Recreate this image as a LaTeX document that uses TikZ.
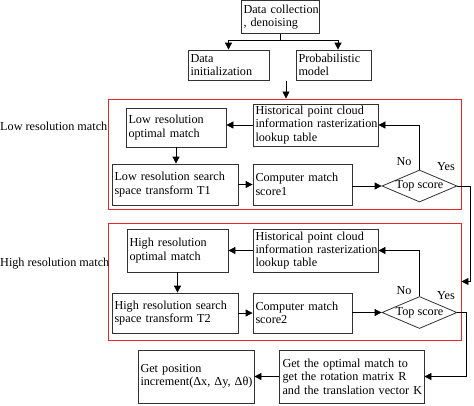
\documentclass[tikz,border=0pt]{standalone}
\usepackage{fontspec}
\setmainfont{Liberation Serif}
\usetikzlibrary{shapes.geometric,arrows.meta}
\definecolor{boxgray}{RGB}{50,50,50}
\definecolor{redc}{RGB}{228,40,40}
\newcommand\oneline[1]{\mbox{#1}}
\begin{document}
\begin{tikzpicture}[x=1pt,y=-1pt,
  every node/.style={font=\fontsize{12.2}{13.4}\selectfont},
  box/.style={draw=boxgray, line width=0.8pt, align=left, inner xsep=2.5pt, inner ysep=0pt},
  redbox/.style={draw=redc, line width=0.9pt, inner sep=0pt},
  dia/.style={draw=boxgray, diamond, shape aspect=2.3, minimum width=75pt, minimum height=32pt, inner sep=0pt, line width=0.8pt},
  arr/.style={-{Triangle[length=7pt,width=7pt]}, line width=0.8pt, draw=black},
  ln/.style={line width=0.8pt, draw=black},
  lbl/.style={inner sep=0pt}]
\useasboundingbox (0,0) rectangle (474,405);
% red group frames
\node[redbox, minimum width=353pt, minimum height=110pt] (red1) at (284.5,154) {};
\node[redbox, minimum width=353pt, minimum height=117pt] (red2) at (284.5,281.5) {};
% top
\node[box, minimum width=78pt, text width=73pt, minimum height=33pt] (top) at (280,17) {\oneline{Data collection}\\\oneline{, denoising}};
\node[box, minimum width=81pt, text width=76pt, minimum height=30pt] (dinit) at (228.5,65) {Data\\\oneline{initialization}};
\node[box, minimum width=75pt, text width=70pt, minimum height=30pt] (prob) at (333.5,65) {\oneline{Probabilistic}\\model};
% low resolution
\node[box, minimum width=125pt, text width=120pt, minimum height=42pt] (hist1) at (315.5,125) {\oneline{Historical point cloud}\\\oneline{information rasterization}\\\oneline{lookup table}};
\node[box, minimum width=100pt, text width=95pt, minimum height=39pt] (lowopt) at (176,127.5) {\oneline{Low resolution}\\\oneline{optimal match}};
\node[box, minimum width=126pt, text width=121pt, minimum height=41pt] (lowsearch) at (175,184.5) {\oneline{Low resolution search}\\\oneline{space transform T1}};
\node[box, minimum width=99pt, text width=94pt, minimum height=41pt] (comp1) at (302.5,184.5) {\oneline{Computer match}\\score1};
\node[dia] (dia1) at (419.5,186) {Top score};
% high resolution
\node[box, minimum width=125pt, text width=120pt, minimum height=43pt] (hist2) at (315.5,250.5) {\oneline{Historical point cloud}\\\oneline{information rasterization}\\\oneline{lookup table}};
\node[box, minimum width=101pt, text width=96pt, minimum height=43pt] (highopt) at (177.5,250.5) {\oneline{High resolution}\\\oneline{optimal match}};
\node[box, minimum width=126pt, text width=121pt, minimum height=40pt] (highsearch) at (175,313) {\oneline{High resolution search}\\\oneline{space transform T2}};
\node[box, minimum width=99pt, text width=94pt, minimum height=40pt] (comp2) at (302.5,313) {\oneline{Computer match}\\score2};
\node[dia] (dia2) at (419.5,312.5) {Top score};
% bottom
\node[box, minimum width=145pt, text width=138pt, minimum height=53pt, inner xsep=3.5pt] (getopt) at (351.5,376.5) {\oneline{Get the optimal match to}\\\oneline{get the rotation matrix R}\\\oneline{and the translation vector K}};
\node[box, minimum width=116pt, text width=111pt, minimum height=53pt] (getpos) at (196,376.5) {\oneline{Get position}\\\oneline{increment(Δx, Δy, Δθ)}};
% labels
\node[lbl, anchor=west] (lowlbl) at (0,126) {Low resolution match};
\node[lbl, anchor=west] (highlbl) at (0,264) {High resolution match};
\node[lbl] (no1) at (404,162) {No};
\node[lbl] (yes1) at (446,167) {Yes};
\node[lbl] (no2) at (404,291) {No};
\node[lbl] (yes2) at (446,296) {Yes};
% connectors
\draw[ln] (top.south) -- ++(0,6) coordinate (br);
\draw[arr] (br) -| (dinit.north);
\draw[arr] (br) -| ([xshift=4.5pt]prob.north);
\coordinate (pa) at (286,81);
\draw[arr] (pa) -- (pa |- red1.north);
\draw[arr] (hist1.west) -- (lowopt.east |- hist1.west);
\draw[arr] (lowopt.south) -- (lowopt.south |- lowsearch.north);
\draw[arr] (lowsearch.east) -- (comp1.west);
\draw[arr] (comp1.east |- dia1.west) -- (dia1.west);
\draw[arr] (dia1.north) |- (hist1.east);
\draw[arr] (dia1.east) -- ++(13,0) |- (red2.east);
\draw[arr] (hist2.west) -- (highopt.east);
\draw[arr] (highopt.south) -- (highopt.south |- highsearch.north);
\draw[arr] (highsearch.east) -- (comp2.west);
\draw[arr] (comp2.east |- dia2.west) -- (dia2.west);
\draw[arr] (dia2.north) |- (hist2.east);
\draw[arr] (dia2.east) -- ++(9,0) |- (getopt.east);
\draw[arr] (getopt.west) -- (getpos.east);
\end{tikzpicture}
\end{document}
